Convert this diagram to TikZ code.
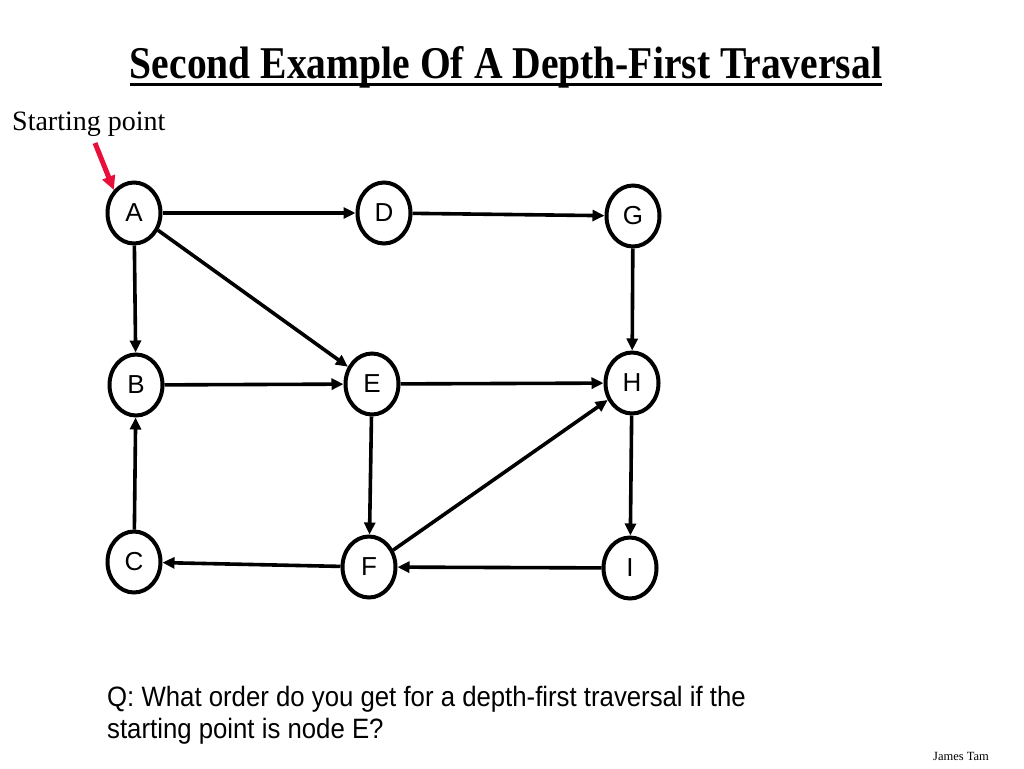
\documentclass[tikz,border=0pt]{standalone}
\usepackage{fontspec}
\setmainfont{Liberation Serif}
\newfontfamily\arialf{Liberation Sans}
\usetikzlibrary{shapes.geometric,arrows.meta}
\definecolor{startred}{RGB}{232,16,58}
\tikzset{
  vtx/.style={ellipse, draw, line width=4pt, minimum width=53pt, minimum height=61pt, inner sep=0pt,
    font=\arialf\fontsize{26}{30}\selectfont},
  edge/.style={line width=3.6pt, -{Triangle[length=12pt,width=11pt]}},
}
\begin{document}
\begin{tikzpicture}[x=1pt,y=-1pt]
\useasboundingbox (0,0) rectangle (1024,768);
% title
\node[anchor=base, inner sep=0pt] (title) at (506,78)
  {\resizebox{752pt}{32pt}{\bfseries Second Example Of A Depth-First Traversal}};
\draw[line width=3pt] ([yshift=-6pt]title.base west) -- ([yshift=-6pt]title.base east);
% starting point
\node[anchor=base west, inner sep=0pt, font=\fontsize{28}{32}\selectfont] (start) at (12,130) {Starting point};
% vertices
\node[vtx] (A) at (134,213) {A};
\node[vtx] (D) at (384,213) {D};
\node[vtx] (G) at (633,216) {G};
\node[vtx] (B) at (136,385) {B};
\node[vtx] (E) at (372,384) {E};
\node[vtx] (H) at (632,383) {H};
\node[vtx] (C) at (134,562) {C};
\node[vtx] (F) at (369,567) {F};
\node[vtx] (I) at (630,568) {I};
% red arrow
\coordinate (rs) at (95,143);
\draw[line width=5pt, startred, -{Triangle[length=14pt,width=13pt]}] (rs) -- (A.north west);
% edges
\draw[edge] (A) -- (D);
\draw[edge] (D) -- (G);
\draw[edge] (G) -- (H);
\draw[edge] (A) -- (B);
\draw[edge] (A) -- (E);
\draw[edge] (B) -- (E);
\draw[edge] (E) -- (H);
\draw[edge] (E) -- (F);
\draw[edge] (F) -- (H);
\draw[edge] (H) -- (I);
\draw[edge] (I) -- (F);
\draw[edge] (F) -- (C);
\draw[edge] (C) -- (B);
% question
\node[anchor=base west, inner sep=0pt, align=left, font=\arialf\fontsize{28}{32}\selectfont] (q) at (107,738)
  {\scalebox{0.92}[1]{Q: What order do you get for a depth-first traversal if the}\\
   \scalebox{0.92}[1]{starting point is node E?}};
% author
\node[anchor=base west, inner sep=0pt, font=\fontsize{12.5}{14}\selectfont] (author) at (933,760) {James Tam};
\end{tikzpicture}
\end{document}
